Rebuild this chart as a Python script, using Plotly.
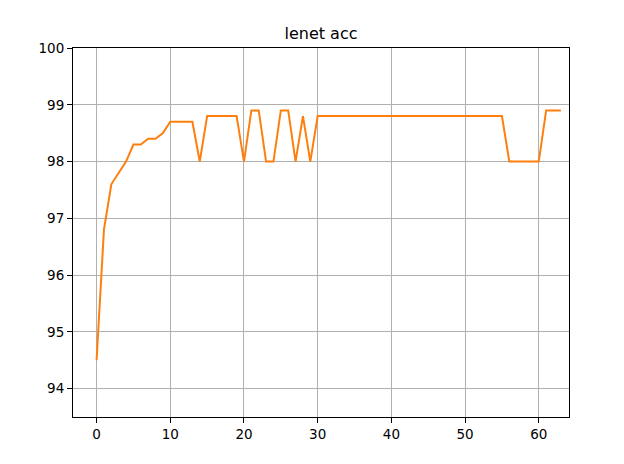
import plotly.graph_objects as go

epochs = list(range(64))
acc = [94.5, 96.8, 97.6, 97.8, 98.0, 98.3, 98.3, 98.4, 98.4, 98.5,
       98.7, 98.7, 98.7, 98.7, 98.0, 98.8, 98.8, 98.8, 98.8, 98.8,
       98.0, 98.9, 98.9, 98.0, 98.0, 98.9, 98.9, 98.0, 98.8, 98.0,
       98.8, 98.8, 98.8, 98.8, 98.8, 98.8, 98.8, 98.8, 98.8, 98.8,
       98.8, 98.8, 98.8, 98.8, 98.8, 98.8, 98.8, 98.8, 98.8, 98.8,
       98.8, 98.8, 98.8, 98.8, 98.8, 98.8, 98.0, 98.0, 98.0, 98.0,
       98.0, 98.9, 98.9, 98.9]
x_ticks = [0, 10, 20, 30, 40, 50, 60]
y_ticks = [94, 95, 96, 97, 98, 99, 100]
title_text = "lenet acc"

fig = go.Figure()
fig.add_trace(go.Scatter(x=epochs, y=acc, mode="lines",
                         line=dict(color="#ff7f0e", width=2)))

axis_common = dict(
    showline=True, linecolor="black", linewidth=1, mirror=True,
    ticks="outside", ticklen=5, tickwidth=1, tickcolor="black",
    showgrid=True, gridcolor="#b0b0b0", gridwidth=1,
    zeroline=False, tickfont=dict(family="DejaVu Sans", size=13.5, color="black"),
)

W, H = 616, 456
fig.update_layout(
    width=W, height=H,
    margin=dict(l=65, r=55, t=40, b=47),
    paper_bgcolor="white", plot_bgcolor="white",
    showlegend=False,
    title=dict(text=title_text, x=(321 - 8) / W, xanchor="center", y=1 - 31 / H, yanchor="bottom",
               font=dict(family="DejaVu Sans", size=16, color="black")),
    xaxis=dict(range=[-3.2, 64.1], tickvals=x_ticks, **axis_common),
    yaxis=dict(range=[93.5, 100], tickvals=y_ticks, **axis_common),
)

fig.write_html("out.html")
